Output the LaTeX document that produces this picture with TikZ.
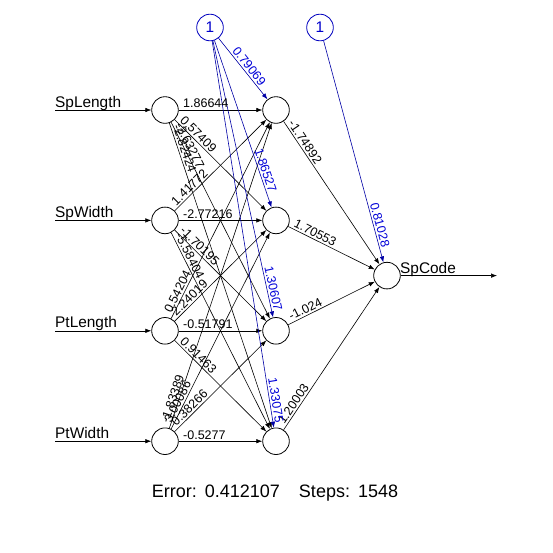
\documentclass[tikz,border=0pt]{standalone}
\usepackage{fontspec}
\setmainfont{Liberation Sans}
\usetikzlibrary{calc,arrows.meta}
\newcommand\fw[4][18pt]{\path ($(#2)!#1!(#3)$) -- (#3.center) node[wlab,pos=0,sloped,anchor=south west]{#4};}
\newcommand\bw[4]{\path (#2.center) -- ($(#3)!#1!(#2)$) node[blab,pos=1,sloped,anchor=south east]{#4};}
\begin{document}
\begin{tikzpicture}[x=1pt,y=-1pt,
  neuron/.style={circle,draw,line width=0.8pt,minimum size=26.6pt,inner sep=0pt},
  biasn/.style={neuron,draw=blue!75!black,text=blue!80!black,font=\fontsize{15.4}{16}\selectfont},
  conn/.style={line width=0.6pt,-{Latex[length=6pt,width=4.5pt]}},
  bconn/.style={conn,draw=blue!65!black},
  wlab/.style={font=\fontsize{12.5}{13}\selectfont,inner xsep=0pt,inner ysep=1.8pt},
  blab/.style={wlab,text=blue!85!black},
  inlab/.style={font=\fontsize{15.4}{16}\selectfont,inner sep=0pt}]
\useasboundingbox[fill=white] (0,0) rectangle (553,552);

% neurons
\node[neuron] (i1) at (165,110) {};
\node[neuron] (i2) at (165,220.4) {};
\node[neuron] (i3) at (165,330.8) {};
\node[neuron] (i4) at (165,441.2) {};
\node[neuron] (h1) at (276,110) {};
\node[neuron] (h2) at (276,220.4) {};
\node[neuron] (h3) at (276,330.8) {};
\node[neuron] (h4) at (276,441.2) {};
\node[neuron] (o) at (387,275.6) {};
\node[biasn] (b1) at (210,27.5) {1};
\node[biasn] (b2) at (320,27.5) {1};

% input arrows and labels
\coordinate (s1) at (55,110);
\coordinate (s2) at (55,220.4);
\coordinate (s3) at (55,330.8);
\coordinate (s4) at (55,441.2);
\draw[conn] (s1) -- (i1);
\draw[conn] (s2) -- (i2);
\draw[conn] (s3) -- (i3);
\draw[conn] (s4) -- (i4);
\node[inlab,anchor=base west] (l1) at (55,107) {SpLength};
\node[inlab,anchor=base west] (l2) at (55,217.4) {SpWidth};
\node[inlab,anchor=base west] (l3) at (55,327.8) {PtLength};
\node[inlab,anchor=base west] (l4) at (55,438.2) {PtWidth};

% output
\coordinate (e) at (497,275.6);
\draw[conn] (o) -- (e);
\node[inlab,anchor=base west] (lo) at (400,273) {SpCode};

% input -> hidden
\foreach \i in {1,...,4}{
  \foreach \j in {1,...,4}{
    \draw[conn] (i\i) -- (h\j);
  }
}
% hidden -> output
\foreach \j in {1,...,4}{
  \draw[conn] (h\j) -- (o);
}
% bias connections
\foreach \j in {1,...,4}{
  \draw[bconn] (b1) -- (h\j);
}
\draw[bconn] (b2) -- (o);

% weights
\fw{i1}{h1}{1.86644}
\fw{i1}{h2}{0.57409}
\fw{i1}{h3}{-2.63277}
\fw{i1}{h4}{-2.82424}
\fw{i2}{h1}{1.41772}
\fw{i2}{h2}{-2.77216}
\fw{i2}{h3}{-1.70195}
\fw{i2}{h4}{-5.58404}
\fw{i3}{h1}{0.54204}
\fw{i3}{h2}{2.24019}
\fw{i3}{h3}{-0.51791}
\fw{i3}{h4}{0.91463}
\fw{i4}{h1}{-1.83389}
\fw{i4}{h2}{3.00086}
\fw{i4}{h3}{0.38266}
\fw{i4}{h4}{-0.5277}
\fw{h1}{o}{-1.74892}
\fw{h2}{o}{1.70553}
\fw{h3}{o}{-1.024}
\fw{h4}{o}{1.20003}
\bw{28pt}{b1}{h1}{0.79069}
\bw{28pt}{b1}{h2}{1.86527}
\bw{19pt}{b1}{h3}{1.30607}
\bw{18pt}{b1}{h4}{1.33075}
\bw{28pt}{b2}{o}{0.81028}

% info
\node[font=\fontsize{18}{20}\selectfont,anchor=base,inner sep=0pt] (err) at (275,497)
  {Error:\hspace{8pt}0.412107\hspace{19pt}Steps:\hspace{8pt}1548};
\end{tikzpicture}
\end{document}
